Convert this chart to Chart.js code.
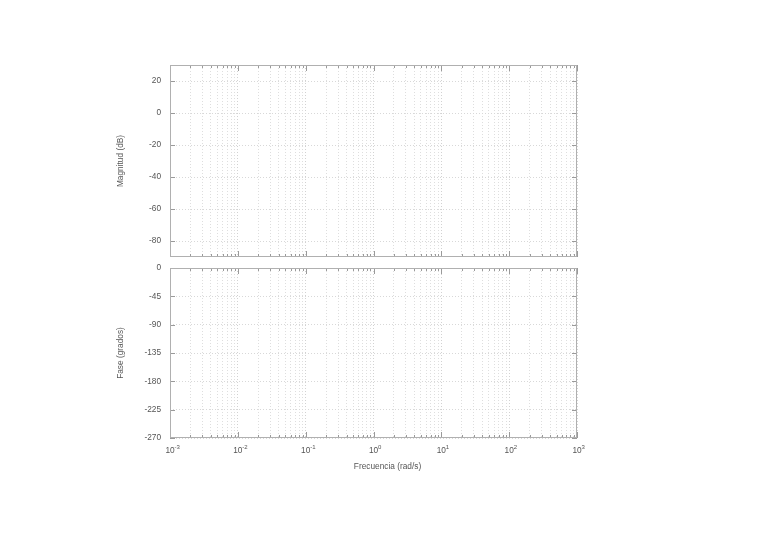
<!DOCTYPE html>
<html><head><meta charset="utf-8">
<script src="https://cdn.jsdelivr.net/npm/chart.js@4"></script>
<style>
html,body{margin:0;padding:0;background:#fff;width:768px;height:543px;overflow:hidden}
.w{position:absolute;left:0;top:0;width:768px;height:543px}
</style></head><body>
<div class="w"><canvas id="c1"></canvas></div>
<div class="w"><canvas id="c2"></canvas></div>
<script>
// ---- data (the reference shows empty axes: no traces) ----
const decadeExps = [-3, -2, -1, 0, 1, 2, 3];
const xTickBase = '10';
const xTickExps = ['-3', '-2', '-1', '0', '1', '2', '3'];
const magTicks = [-80, -60, -40, -20, 0, 20];
const phaseTicks = [-270, -225, -180, -135, -90, -45, 0];
const magRange = [-90, 30];
const phaseRange = [-270, 0];
const freqRange = [1e-3, 1e3];
const magData = [];
const phaseData = [];
const xTitle = 'Frecuencia (rad/s)';

// minor + major grid positions on the frequency axis
const freqGrid = [];
decadeExps.forEach((e, i) => {
  if (i === decadeExps.length - 1) { freqGrid.push(Math.pow(10, e)); return; }
  for (let m = 1; m <= 9; m++) freqGrid.push(m * Math.pow(10, e));
});
const isDecade = v => Math.abs(Math.log10(v) - Math.round(Math.log10(v))) < 1e-9;

const FAMILY = '"Liberation Sans", Arial, sans-serif';
const FONT = {family: FAMILY, size: 8.3};
const TXT = '#555';

const framePlugin = {
  id: 'frame',
  afterDraw(chart, args, opts) {
    const {ctx, chartArea: a, scales} = chart;
    ctx.save();
    ctx.lineWidth = 1;
    ctx.strokeStyle = '#9a9a9a';
    ctx.beginPath();
    scales.x.ticks.forEach(t => {
      const px = Math.round(scales.x.getPixelForValue(t.value)) + 0.5;
      const len = isDecade(t.value) ? 6 : 3;
      ctx.moveTo(px, a.bottom); ctx.lineTo(px, a.bottom - len);
      ctx.moveTo(px, a.top); ctx.lineTo(px, a.top + len);
    });
    scales.y.ticks.forEach(t => {
      const py = Math.round(scales.y.getPixelForValue(t.value)) + 0.5;
      ctx.moveTo(a.left, py); ctx.lineTo(a.left + 5, py);
      ctx.moveTo(a.right, py); ctx.lineTo(a.right - 5, py);
    });
    ctx.stroke();
    ctx.strokeStyle = '#b0b0b0';
    ctx.strokeRect(Math.round(a.left) + 0.5, Math.round(a.top) + 0.5,
                   Math.round(a.width) - 1, Math.round(a.height) - 1);
    if (opts.labels) {
      // exponents of the decade labels
      ctx.fillStyle = TXT;
      ctx.font = '6px ' + FAMILY;
      ctx.textAlign = 'left';
      ctx.textBaseline = 'alphabetic';
      decadeExps.forEach((e, i) => {
        const px = scales.x.getPixelForValue(Math.pow(10, e));
        ctx.fillText(xTickExps[i], px + 4.5, a.bottom + 10.5);
      });
      // axis title
      ctx.font = FONT.size + 'px ' + FAMILY;
      ctx.textAlign = 'center';
      ctx.textBaseline = 'middle';
      ctx.fillText(xTitle, (a.left + a.right) / 2 + 14, a.bottom + 29);
    }
    ctx.restore();
  }
};

function panel(id, opts) {
  return new Chart(document.getElementById(id), {
    type: 'scatter',
    data: {datasets: [{data: opts.data, borderColor: '#000', showLine: true, pointRadius: 0}]},
    options: {
      responsive: true, maintainAspectRatio: false, animation: false,
      layout: {padding: opts.padding},
      plugins: {legend: {display: false}, tooltip: {enabled: false}, frame: {labels: opts.showX}},
      scales: {
        x: {
          type: 'logarithmic', min: freqRange[0], max: freqRange[1],
          afterBuildTicks: s => { s.ticks = freqGrid.map(v => ({value: v, major: isDecade(v)})); },
          afterFit: s => { s.height = opts.xHeight; },
          grid: {color: c => (c.tick && c.tick.major) ? '#d2d2d2' : '#dedede', lineWidth: 1, drawTicks: false},
          border: {display: false, dash: [1, 2]},
          ticks: {
            display: opts.showX, autoSkip: false, maxRotation: 0, padding: 8,
            font: FONT, color: TXT,
            callback: v => isDecade(v) ? xTickBase : ''
          },
          title: {display: false}
        },
        y: {
          type: 'linear', min: opts.yRange[0], max: opts.yRange[1],
          afterBuildTicks: s => { s.ticks = opts.yTicks.map(v => ({value: v})); },
          afterFit: s => { s.width = 58; },
          grid: {color: '#d8d8d8', lineWidth: 1, drawTicks: false},
          border: {display: false, dash: [1, 2]},
          ticks: {font: FONT, color: TXT, padding: 9},
          title: {display: true, text: opts.yTitle, font: FONT, color: TXT, padding: {top: 4, bottom: 4}}
        }
      }
    },
    plugins: [framePlugin]
  });
}

panel('c1', {
  data: magData, yRange: magRange, yTicks: magTicks, yTitle: 'Magnitud (dB)',
  showX: false, xHeight: 0, padding: {left: 112, top: 65, right: 191, bottom: 286}
});
panel('c2', {
  data: phaseData, yRange: phaseRange, yTicks: phaseTicks, yTitle: 'Fase (grados)',
  showX: true, xHeight: 38, padding: {left: 112, top: 268, right: 191, bottom: 67}
});
</script>
</body></html>
